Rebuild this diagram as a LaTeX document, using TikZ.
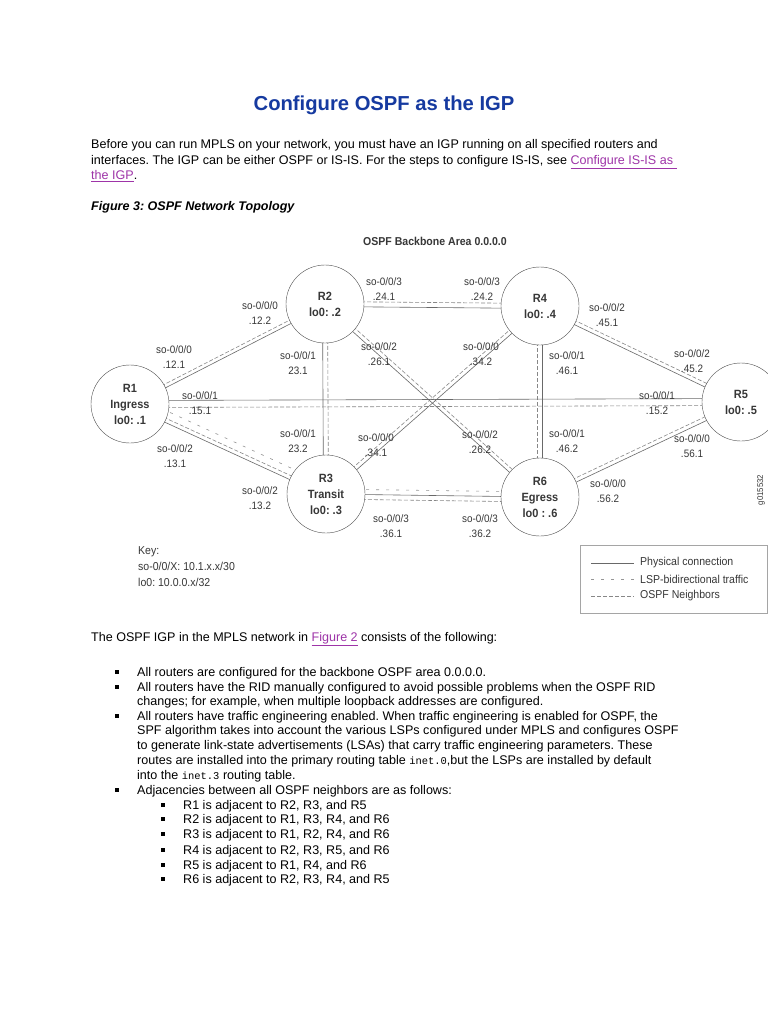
\documentclass[tikz,border=0pt]{standalone}
\usepackage{fontspec}
\setmainfont{Liberation Sans}
\setmonofont{Liberation Mono}
\newfontfamily\figfont[FakeStretch=0.92]{Liberation Sans}
\usetikzlibrary{positioning}
\usetikzlibrary{calc, backgrounds}
\frenchspacing

\definecolor{titleblue}{RGB}{22,58,160}
\definecolor{linkpurple}{RGB}{158,52,168}
\definecolor{wire}{RGB}{105,105,105}
\definecolor{figtext}{RGB}{55,55,55}

\newcommand{\weblink}[1]{\textcolor{linkpurple}{\underline{#1}}}
\newcommand{\netlink}[4]{\draw[#4] ($(#1.center)!#3!90:(#2.center)$) -- ($(#2.center)!#3!-90:(#1.center)$);}

\tikzset{
  router/.style={circle, draw=black!70, fill=white, minimum size=78bp, inner sep=0pt,
    align=center, font=\figfont\fontsize{12}{16}\selectfont\bfseries, text=figtext},
  iflabel/.style={align=center, inner sep=0pt, font=\figfont\fontsize{10.8}{14.5}\selectfont, text=figtext},
  keytext/.style={anchor=base west, inner sep=0pt, font=\figfont\fontsize{11.5}{13}\selectfont, text=figtext},
  phys/.style={draw=wire, line width=0.6bp},
  ospf/.style={draw=wire!80, line width=0.6bp, dash pattern=on 4bp off 2bp},
  lsp/.style={draw=wire!70, line width=0.6bp, dash pattern=on 3bp off 7bp},
  body/.style={anchor=base west, inner sep=0pt, font=\fontsize{12.6}{14}\selectfont},
}

\begin{document}
\begin{tikzpicture}[x=1bp,y=-1bp]
\begin{scope}[on background layer]
\fill[white] (0,0) rectangle (768,1024);
\end{scope}
\useasboundingbox (0,0) rectangle (768,1024);

% page text above the figure
\node[font=\fontsize{20.3}{24}\selectfont\bfseries, text=titleblue] (title) at (384,105) {Configure OSPF as the IGP};
\node[body] (p1) at (91,148.5) {Before you can run MPLS on your network, you must have an IGP running on all specified routers and};
\node[body] (p2) at (91,164) {interfaces. The IGP can be either OSPF or IS-IS. For the steps to configure IS-IS, see \weblink{Configure IS-IS as\ }};
\node[body] (p3) at (91,179.5) {\weblink{the IGP}.};
\node[body, font=\fontsize{12.6}{14}\selectfont\bfseries\itshape] (caption) at (91,210.5) {Figure 3: OSPF Network Topology};

% figure
\node[font=\figfont\fontsize{11.5}{14}\selectfont\bfseries, text=figtext] (area) at (435,241) {OSPF Backbone Area 0.0.0.0};

\node[router] (R1) at (130,404) {R1\\Ingress\\lo0: .1};
\node[router] (R2) at (325,304) {R2\\lo0: .2};
\node[router] (R3) at (326,494) {R3\\Transit\\lo0: .3};
\node[router] (R4) at (540,306) {R4\\lo0: .4};
\node[router] (R5) at (741,402) {R5\\lo0: .5};
\node[router] (R6) at (540,497) {R6\\Egress\\lo0 : .6};

\begin{scope}[on background layer]
\netlink{R1}{R2}{1.8bp}{ospf}
\netlink{R1}{R2}{-1.8bp}{phys}
\netlink{R2}{R4}{2.5bp}{ospf}
\netlink{R2}{R4}{-2.5bp}{phys}
\netlink{R2}{R3}{-2.5bp}{phys}
\netlink{R2}{R3}{2.5bp}{ospf}
\netlink{R4}{R6}{-2.5bp}{ospf}
\netlink{R4}{R6}{2.5bp}{phys}
\netlink{R1}{R5}{3.5bp}{phys}
\netlink{R1}{R5}{-3.5bp}{ospf}
\netlink{R1}{R3}{9bp}{lsp}
\netlink{R1}{R3}{2bp}{ospf}
\netlink{R1}{R3}{-2bp}{phys}
\netlink{R3}{R6}{5bp}{lsp}
\netlink{R3}{R6}{0bp}{phys}
\netlink{R3}{R6}{-5bp}{ospf}
\netlink{R2}{R6}{2bp}{ospf}
\netlink{R2}{R6}{-2bp}{phys}
\netlink{R3}{R4}{2bp}{ospf}
\netlink{R3}{R4}{-2bp}{phys}
\netlink{R4}{R5}{2bp}{ospf}
\netlink{R4}{R5}{-2bp}{phys}
\netlink{R6}{R5}{2bp}{ospf}
\netlink{R6}{R5}{-2bp}{phys}
\end{scope}

% interface labels
\node[iflabel] (i121) at (174,357) {so-0/0/0\\.12.1};
\node[iflabel] (i122) at (260,313) {so-0/0/0\\.12.2};
\node[iflabel] (i241) at (384,289) {so-0/0/3\\.24.1};
\node[iflabel] (i242) at (482,289) {so-0/0/3\\.24.2};
\node[iflabel] (i231) at (298,363) {so-0/0/1\\23.1};
\node[iflabel] (i261) at (379,354) {so-0/0/2\\.26.1};
\node[iflabel] (i342) at (481,354) {so-0/0/0\\.34.2};
\node[iflabel] (i461) at (567,363) {so-0/0/1\\.46.1};
\node[iflabel] (i451) at (607,315) {so-0/0/2\\.45.1};
\node[iflabel] (i452) at (692,361) {so-0/0/2\\.45.2};
\node[iflabel] (i151) at (200,403) {so-0/0/1\\.15.1};
\node[iflabel] (i152) at (657,403) {so-0/0/1\\.15.2};
\node[iflabel] (i232) at (298,441) {so-0/0/1\\23.2};
\node[iflabel] (i341) at (376,445) {so-0/0/0\\.34.1};
\node[iflabel] (i262) at (480,442) {so-0/0/2\\.26.2};
\node[iflabel] (i462) at (567,441) {so-0/0/1\\.46.2};
\node[iflabel] (i561) at (692,446) {so-0/0/0\\.56.1};
\node[iflabel] (i131) at (175,456) {so-0/0/2\\.13.1};
\node[iflabel] (i132) at (260,498) {so-0/0/2\\.13.2};
\node[iflabel] (i562) at (608,491) {so-0/0/0\\.56.2};
\node[iflabel] (i361) at (391,526) {so-0/0/3\\.36.1};
\node[iflabel] (i362) at (480,526) {so-0/0/3\\.36.2};

\node[rotate=90, font=\figfont\fontsize{8.5}{10}\selectfont, text=figtext] (figid) at (761,490) {g015532};

% key and legend
\node[keytext] (key1) at (138,554) {Key:};
\node[keytext] (key2) at (138,570) {so-0/0/X: 10.1.x.x/30};
\node[keytext] (key3) at (138,586) {lo0: 10.0.0.x/32};

\draw[draw=wire!60, line width=0.6bp] (580,545) rectangle (767,613);
\coordinate (lg1a) at (591,563); \coordinate (lg1b) at (634,563);
\coordinate (lg2a) at (591,579); \coordinate (lg2b) at (634,579);
\coordinate (lg3a) at (591,596); \coordinate (lg3b) at (634,596);
\draw[phys] (lg1a) -- (lg1b);
\draw[lsp] (lg2a) -- (lg2b);
\draw[ospf] (lg3a) -- (lg3b);
\node[keytext, anchor=west] (lg1) at (640,563) {Physical connection};
\node[keytext, anchor=west] (lg2) at (640,579) {LSP-bidirectional traffic};
\node[keytext, anchor=west] (lg3) at (640,596) {OSPF Neighbors};

% page text below the figure
\node[body] (q0) at (91,641.5) {The OSPF IGP in the MPLS network in \weblink{Figure 2} consists of the following:};
\foreach \y in {672,686.5,716,790}
  \fill (115,\y-2) rectangle +(4,4);
\foreach \y in {804.5,819,834,849.5,864.5,879}
  \fill (161,\y-2) rectangle +(4,4);
\node[body] (q1) at (137,676.5) {All routers are configured for the backbone OSPF area 0.0.0.0.};
\node[body] (q2) at (137,691) {All routers have the RID manually configured to avoid possible problems when the OSPF RID};
\node[body] (q3) at (137,705.5) {changes; for example, when multiple loopback addresses are configured.};
\node[body] (q4) at (137,720.5) {All routers have traffic engineering enabled. When traffic engineering is enabled for OSPF, the};
\node[body] (q5) at (137,734.5) {SPF algorithm takes into account the various LSPs configured under MPLS and configures OSPF};
\node[body] (q6) at (137,749.5) {to generate link-state advertisements (LSAs) that carry traffic engineering parameters. These};
\node[body] (q7) at (137,764.5) {routes are installed into the primary routing table {\ttfamily\fontsize{10.5}{12}\selectfont inet.0},but the LSPs are installed by default};
\node[body] (q8) at (137,779) {into the {\ttfamily\fontsize{10.5}{12}\selectfont inet.3} routing table.};
\node[body] (q9) at (137,794.5) {Adjacencies between all OSPF neighbors are as follows:};
\node[body] (s1) at (183,809) {R1 is adjacent to R2, R3, and R5};
\node[body] (s2) at (183,823.5) {R2 is adjacent to R1, R3, R4, and R6};
\node[body] (s3) at (183,838.5) {R3 is adjacent to R1, R2, R4, and R6};
\node[body] (s4) at (183,854) {R4 is adjacent to R2, R3, R5, and R6};
\node[body] (s5) at (183,869) {R5 is adjacent to R1, R4, and R6};
\node[body] (s6) at (183,883.5) {R6 is adjacent to R2, R3, R4, and R5};

\end{tikzpicture}
\end{document}
